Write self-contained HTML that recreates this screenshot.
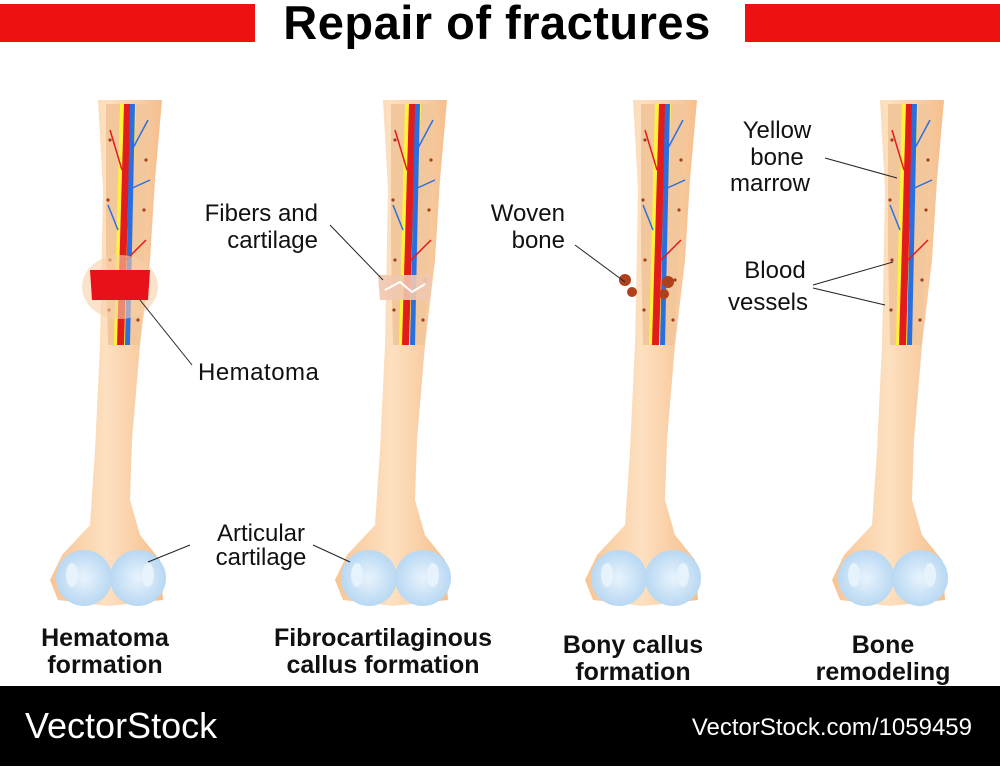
<!DOCTYPE html>
<html><head><meta charset="utf-8"><style>
body{margin:0;width:1000px;height:766px;overflow:hidden;background:#fff;font-family:"Liberation Sans",sans-serif}
</style></head><body>
<svg width="1000" height="766" viewBox="0 0 1000 766" xmlns="http://www.w3.org/2000/svg" font-family="Liberation Sans, sans-serif">
<defs>
<linearGradient id="bg" x1="0" x2="1"><stop offset="0" stop-color="#f7c494"/><stop offset="0.5" stop-color="#fde0c0"/><stop offset="1" stop-color="#f5be8c"/></linearGradient>
<radialGradient id="cg"><stop offset="0" stop-color="#e8f3fd"/><stop offset="1" stop-color="#b8d8f2"/></radialGradient>
<g id="bone">
<path d="M98,100 L162,100 L155,180 L150,260 L140,345 L132,440 L130,500 L140,535 L160,560 L163,600 L108,606 L58,600 L50,580 L62,555 L90,525 L95,450 L100,345 L103,190 Z" fill="url(#bg)"/>
<path d="M106,104 L150,104 L144,250 L140,345 L108,345 L106,250 Z" fill="#f3c79c"/>
<path d="M120,104 L136,104 L128,345 L114,345 Z" fill="#fff23a"/>
<path d="M124,104 L131,104 L124,345 L117,345 Z" fill="#e21c1c"/>
<path d="M130,104 L135,104 L130,345 L125,345 Z" fill="#2a6fe0"/>
<path d="M132,150 L148,120 M118,230 L108,205 M128,190 L150,180" stroke="#2a6fe0" stroke-width="1.5" fill="none"/>
<path d="M122,170 L110,130 M126,260 L146,240" stroke="#e21c1c" stroke-width="1.5" fill="none"/>
<g fill="#a0401c"><circle cx="110" cy="140" r="1.6"/><circle cx="146" cy="160" r="1.6"/><circle cx="108" cy="200" r="1.6"/><circle cx="144" cy="210" r="1.6"/><circle cx="110" cy="260" r="1.6"/><circle cx="140" cy="280" r="1.6"/><circle cx="109" cy="310" r="1.6"/><circle cx="138" cy="320" r="1.6"/></g>
<circle cx="84" cy="578" r="28" fill="url(#cg)"/>
<circle cx="138" cy="578" r="28" fill="url(#cg)"/>
<ellipse cx="72" cy="575" rx="6" ry="12" fill="#e6f2fc"/>
<ellipse cx="148" cy="575" rx="6" ry="12" fill="#e6f2fc"/>
</g>
</defs>
<rect x="0" y="4" width="255" height="38" fill="#ee1111"/>
<rect x="745" y="4" width="255" height="38" fill="#ee1111"/>
<text x="497" y="39" font-size="47" font-weight="bold" text-anchor="middle" letter-spacing="0.5">Repair of  fractures</text>
<use href="#bone"/>
<use href="#bone" transform="translate(285,0)"/>
<use href="#bone" transform="translate(535,0)"/>
<use href="#bone" transform="translate(782,0)"/>
<ellipse cx="120" cy="287" rx="38" ry="32" fill="#f8d0a8" opacity="0.6"/>
<path d="M90,270 L150,270 L148,300 L92,300 Z" fill="#e8101a"/>
<path d="M378,275 L432,275 L430,300 L380,300 Z" fill="#f0c8b0" opacity="0.9"/>
<path d="M385,290 L400,282 L412,292 L425,284" stroke="#fff" stroke-width="2" fill="none"/>
<g fill="#b0401c"><circle cx="625" cy="280" r="6"/><circle cx="632" cy="292" r="5"/><circle cx="668" cy="282" r="6"/><circle cx="664" cy="294" r="5"/></g>
<g stroke="#222" stroke-width="1" fill="none">
<line x1="140" y1="300" x2="192" y2="365"/>
<line x1="190" y1="545" x2="148" y2="562"/>
<line x1="330" y1="225" x2="383" y2="280"/>
<line x1="313" y1="545" x2="350" y2="562"/>
<line x1="575" y1="245" x2="625" y2="282"/>
<line x1="825" y1="158" x2="897" y2="178"/>
<line x1="813" y1="285" x2="893" y2="262"/>
<line x1="813" y1="288" x2="885" y2="305"/>
</g>
<g font-size="24" fill="#111">
<text x="318" y="221" text-anchor="end">Fibers and</text>
<text x="318" y="248" text-anchor="end">cartilage</text>
<text x="565" y="221" text-anchor="end">Woven</text>
<text x="565" y="248" text-anchor="end">bone</text>
<text x="777" y="138" text-anchor="middle">Yellow</text>
<text x="777" y="165" text-anchor="middle">bone</text>
<text x="770" y="191" text-anchor="middle">marrow</text>
<text x="775" y="278" text-anchor="middle">Blood</text>
<text x="768" y="310" text-anchor="middle">vessels</text>
<text x="198" y="380" letter-spacing="0.5">Hematoma</text>
<text x="261" y="541" text-anchor="middle">Articular</text>
<text x="261" y="565" text-anchor="middle">cartilage</text>
</g>
<g font-size="25" font-weight="bold" text-anchor="middle" fill="#111">
<text x="105" y="646">Hematoma</text><text x="105" y="673">formation</text>
<text x="383" y="646">Fibrocartilaginous</text><text x="383" y="673">callus formation</text>
<text x="633" y="653">Bony callus</text><text x="633" y="680">formation</text>
<text x="883" y="653">Bone</text><text x="883" y="680">remodeling</text>
</g>
<rect x="0" y="686" width="1000" height="80" fill="#000"/>
<text x="25" y="738" font-size="36" fill="#fff">VectorStock</text>
<text x="972" y="735" font-size="24" fill="#fff" text-anchor="end">VectorStock.com/1059459</text>
</svg>
</body></html>
